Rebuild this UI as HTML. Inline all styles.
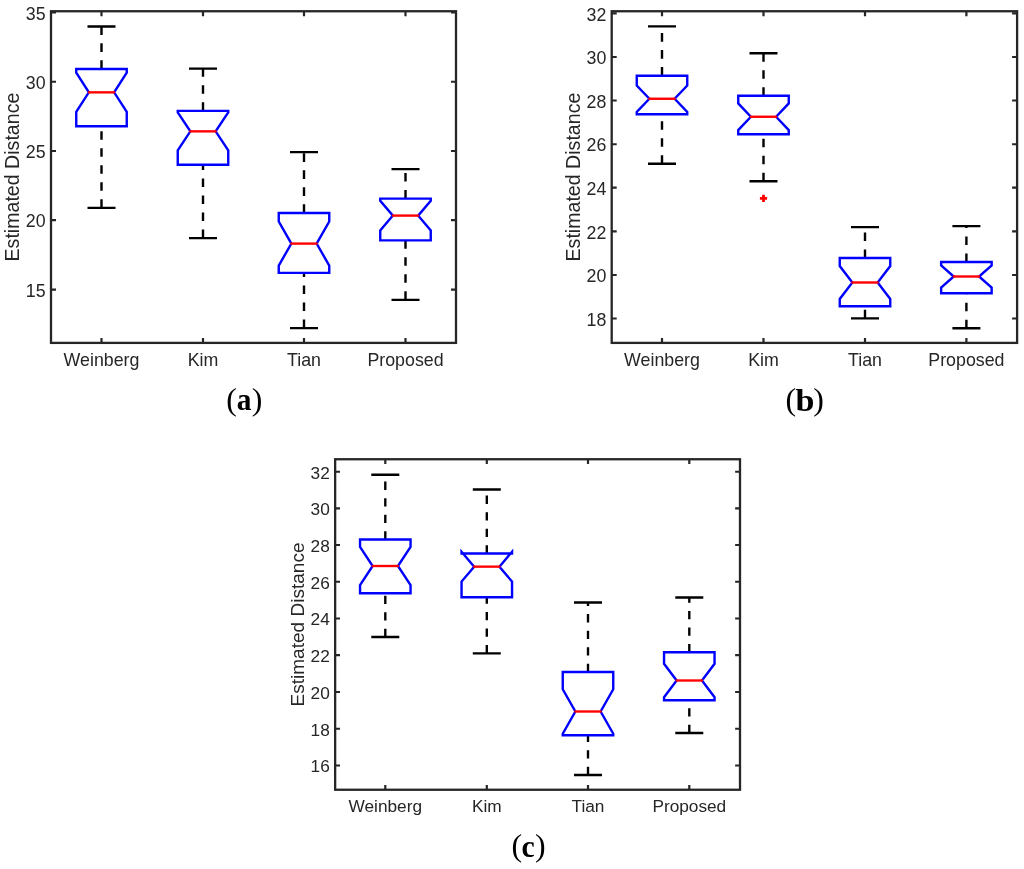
<!DOCTYPE html>
<html lang="en">
<head>
<meta charset="utf-8">
<title>Estimated Distance box plots</title>
<style>
html,body{margin:0;padding:0;background:#fff;}
body{width:1024px;height:869px;overflow:hidden;}
svg{display:block;}
.t{font-family:"Liberation Sans",Arial,Helvetica,sans-serif;fill:#262626;}
.c{font-family:"Liberation Serif","DejaVu Serif",serif;fill:#000;}
</style>
</head>
<body>
<svg width="1024" height="869" viewBox="0 0 1024 869">
<rect x="0" y="0" width="1024" height="869" fill="#ffffff"/>

<g id="plot-a">
<path d="M101.5 68.95V26.55M101.5 207.85V126.2" stroke="#000" stroke-width="2.4" stroke-dasharray="8.6 8.4" fill="none"/>
<path d="M87.5 26.55H115.5M87.5 207.85H115.5" stroke="#000" stroke-width="2.4" fill="none"/>
<path d="M76.25 126.2V111.95L88.85 92.35L76.25 72.55V68.95H126.75V72.55L114.15 92.35L126.75 111.95V126.2Z" stroke="#0000ff" stroke-width="2.4" stroke-linejoin="miter" stroke-miterlimit="6" fill="none"/>
<path d="M87.85 92.35H115.15" stroke="#ff0000" stroke-width="2.4" fill="none"/>
<path d="M203 110.85V68.6M203 238.1V164.75" stroke="#000" stroke-width="2.4" stroke-dasharray="8.6 8.4" fill="none"/>
<path d="M189 68.6H217M189 238.1H217" stroke="#000" stroke-width="2.4" fill="none"/>
<path d="M177.75 164.75V150.35L190.35 131.35L177.75 112.35V110.85H228.25V112.35L215.65 131.35L228.25 150.35V164.75Z" stroke="#0000ff" stroke-width="2.4" stroke-linejoin="miter" stroke-miterlimit="6" fill="none"/>
<path d="M189.35 131.35H216.65" stroke="#ff0000" stroke-width="2.4" fill="none"/>
<path d="M304 212.95V152.1M304 328.1V272.85" stroke="#000" stroke-width="2.4" stroke-dasharray="8.6 8.4" fill="none"/>
<path d="M290 152.1H318M290 328.1H318" stroke="#000" stroke-width="2.4" fill="none"/>
<path d="M278.75 272.85V265.55L291.35 243.6L278.75 221.55V212.95H329.25V221.55L316.65 243.6L329.25 265.55V272.85Z" stroke="#0000ff" stroke-width="2.4" stroke-linejoin="miter" stroke-miterlimit="6" fill="none"/>
<path d="M290.35 243.6H317.65" stroke="#ff0000" stroke-width="2.4" fill="none"/>
<path d="M405.5 198.6V169.1M405.5 299.85V240.35" stroke="#000" stroke-width="2.4" stroke-dasharray="8.6 8.4" fill="none"/>
<path d="M391.5 169.1H419.5M391.5 299.85H419.5" stroke="#000" stroke-width="2.4" fill="none"/>
<path d="M380.25 240.35V230.35L392.85 215.6L380.25 200.85V198.6H430.75V200.85L418.15 215.6L430.75 230.35V240.35Z" stroke="#0000ff" stroke-width="2.4" stroke-linejoin="miter" stroke-miterlimit="6" fill="none"/>
<path d="M391.85 215.6H419.15" stroke="#ff0000" stroke-width="2.4" fill="none"/>
<path d="M101.5 342.9V337.9M101.5 11.25V16.25M203 342.9V337.9M203 11.25V16.25M304 342.9V337.9M304 11.25V16.25M405.5 342.9V337.9M405.5 11.25V16.25M51 12.5H56M456 12.5H451M51 81.75H56M456 81.75H451M51 151H56M456 151H451M51 220.2H56M456 220.2H451M51 289.6H56M456 289.6H451" stroke="#262626" stroke-width="2.2" fill="none"/>
<rect x="51" y="11.25" width="405" height="331.65" fill="none" stroke="#262626" stroke-width="2.3"/>
<text class="t" x="45.6" y="19.6" font-size="17.8" text-anchor="end">35</text>
<text class="t" x="45.6" y="88.85" font-size="17.8" text-anchor="end">30</text>
<text class="t" x="45.6" y="158.1" font-size="17.8" text-anchor="end">25</text>
<text class="t" x="45.6" y="227.3" font-size="17.8" text-anchor="end">20</text>
<text class="t" x="45.6" y="296.7" font-size="17.8" text-anchor="end">15</text>
<text class="t" x="101.5" y="365.85" font-size="17.8" text-anchor="middle">Weinberg</text>
<text class="t" x="203" y="365.85" font-size="17.8" text-anchor="middle">Kim</text>
<text class="t" x="304" y="365.85" font-size="17.8" text-anchor="middle">Tian</text>
<text class="t" x="405.5" y="365.85" font-size="17.8" text-anchor="middle">Proposed</text>
<text class="t" transform="translate(18.9 177.07) rotate(-90)" font-size="19.6" text-anchor="middle">Estimated Distance</text>
<text class="c" x="226.2" y="409.8" font-size="31.9">(</text>
<text class="c" transform="translate(244.2 409.6) scale(0.95 1)" font-size="31" font-weight="bold" text-anchor="middle">a</text>
<text class="c" x="251.8" y="409.8" font-size="31.9">)</text>
</g>
<g id="plot-b">
<path d="M662 75.7V26.4M662 163.75V114.25" stroke="#000" stroke-width="2.4" stroke-dasharray="8.6 8.4" fill="none"/>
<path d="M648 26.4H676M648 163.75H676" stroke="#000" stroke-width="2.4" fill="none"/>
<path d="M636.75 114.25V112L649.35 98.75L636.75 85.5V75.7H687.25V85.5L674.65 98.75L687.25 112V114.25Z" stroke="#0000ff" stroke-width="2.4" stroke-linejoin="miter" stroke-miterlimit="6" fill="none"/>
<path d="M648.35 98.75H675.65" stroke="#ff0000" stroke-width="2.4" fill="none"/>
<path d="M763.5 95.75V53.25M763.5 181.25V134.25" stroke="#000" stroke-width="2.4" stroke-dasharray="8.6 8.4" fill="none"/>
<path d="M749.5 53.25H777.5M749.5 181.25H777.5" stroke="#000" stroke-width="2.4" fill="none"/>
<path d="M738.25 134.25V130.1L750.85 116.75L738.25 103.4V95.75H788.75V103.4L776.15 116.75L788.75 130.1V134.25Z" stroke="#0000ff" stroke-width="2.4" stroke-linejoin="miter" stroke-miterlimit="6" fill="none"/>
<path d="M749.85 116.75H777.15" stroke="#ff0000" stroke-width="2.4" fill="none"/>
<path d="M865 258V227.1M865 318.4V306.25" stroke="#000" stroke-width="2.4" stroke-dasharray="8.6 8.4" fill="none"/>
<path d="M851 227.1H879M851 318.4H879" stroke="#000" stroke-width="2.4" fill="none"/>
<path d="M839.75 306.25V299L852.35 282.5L839.75 266V258H890.25V266L877.65 282.5L890.25 299V306.25Z" stroke="#0000ff" stroke-width="2.4" stroke-linejoin="miter" stroke-miterlimit="6" fill="none"/>
<path d="M851.35 282.5H878.65" stroke="#ff0000" stroke-width="2.4" fill="none"/>
<path d="M966.4 262V226.15M966.4 328.25V293.25" stroke="#000" stroke-width="2.4" stroke-dasharray="8.6 8.4" fill="none"/>
<path d="M952.4 226.15H980.4M952.4 328.25H980.4" stroke="#000" stroke-width="2.4" fill="none"/>
<path d="M941.15 293.25V287.5L953.75 276.5L941.15 265.5V262H991.65V265.5L979.05 276.5L991.65 287.5V293.25Z" stroke="#0000ff" stroke-width="2.4" stroke-linejoin="miter" stroke-miterlimit="6" fill="none"/>
<path d="M952.75 276.5H980.05" stroke="#ff0000" stroke-width="2.4" fill="none"/>
<path d="M759.9 198.4H767.1M763.5 194.8V202" stroke="#ff0000" stroke-width="2.8" fill="none"/>
<path d="M662 342.9V337.9M662 11.25V16.25M763.5 342.9V337.9M763.5 11.25V16.25M865 342.9V337.9M865 11.25V16.25M966.4 342.9V337.9M966.4 11.25V16.25M611.7 13.4H616.7M1017.1 13.4H1012.1M611.7 57H616.7M1017.1 57H1012.1M611.7 100.5H616.7M1017.1 100.5H1012.1M611.7 144.25H616.7M1017.1 144.25H1012.1M611.7 187.6H616.7M1017.1 187.6H1012.1M611.7 231.4H616.7M1017.1 231.4H1012.1M611.7 275H616.7M1017.1 275H1012.1M611.7 318.5H616.7M1017.1 318.5H1012.1" stroke="#262626" stroke-width="2.2" fill="none"/>
<rect x="611.7" y="11.25" width="405.4" height="331.65" fill="none" stroke="#262626" stroke-width="2.3"/>
<text class="t" x="606.3" y="20.5" font-size="17.8" text-anchor="end">32</text>
<text class="t" x="606.3" y="64.1" font-size="17.8" text-anchor="end">30</text>
<text class="t" x="606.3" y="107.6" font-size="17.8" text-anchor="end">28</text>
<text class="t" x="606.3" y="151.35" font-size="17.8" text-anchor="end">26</text>
<text class="t" x="606.3" y="194.7" font-size="17.8" text-anchor="end">24</text>
<text class="t" x="606.3" y="238.5" font-size="17.8" text-anchor="end">22</text>
<text class="t" x="606.3" y="282.1" font-size="17.8" text-anchor="end">20</text>
<text class="t" x="606.3" y="325.6" font-size="17.8" text-anchor="end">18</text>
<text class="t" x="662" y="365.85" font-size="17.8" text-anchor="middle">Weinberg</text>
<text class="t" x="763.5" y="365.85" font-size="17.8" text-anchor="middle">Kim</text>
<text class="t" x="865" y="365.85" font-size="17.8" text-anchor="middle">Tian</text>
<text class="t" x="966.4" y="365.85" font-size="17.8" text-anchor="middle">Proposed</text>
<text class="t" transform="translate(579.8 177.07) rotate(-90)" font-size="19.6" text-anchor="middle">Estimated Distance</text>
<text class="c" x="785.5" y="409.9" font-size="31.9">(</text>
<text class="c" transform="translate(804.9 410.5) scale(1.1 1)" font-size="31" font-weight="bold" text-anchor="middle">b</text>
<text class="c" x="813.25" y="409.9" font-size="31.9">)</text>
</g>
<g id="plot-c">
<path d="M385.3 539.5V474.75M385.3 637V593.25" stroke="#000" stroke-width="2.37" stroke-dasharray="8.35 8.16" fill="none"/>
<path d="M371.3 474.75H399.3M371.3 637H399.3" stroke="#000" stroke-width="2.37" fill="none"/>
<path d="M360.05 593.25V585L372.65 566L360.05 547V539.5H410.55V547L397.95 566L410.55 585V593.25Z" stroke="#0000ff" stroke-width="2.4" stroke-linejoin="miter" stroke-miterlimit="6" fill="none"/>
<path d="M371.65 566H398.95" stroke="#ff0000" stroke-width="2.37" fill="none"/>
<path d="M486.8 553.5V489.5M486.8 653.35V597.2" stroke="#000" stroke-width="2.37" stroke-dasharray="8.35 8.16" fill="none"/>
<path d="M472.8 489.5H500.8M472.8 653.35H500.8" stroke="#000" stroke-width="2.37" fill="none"/>
<path d="M461.55 597.2V581.6L474.15 566.65L461.55 551.7V553.5H512.05V551.7L499.45 566.65L512.05 581.6V597.2Z" stroke="#0000ff" stroke-width="2.4" stroke-linejoin="miter" stroke-miterlimit="6" fill="none"/>
<path d="M473.15 566.65H500.45" stroke="#ff0000" stroke-width="2.37" fill="none"/>
<path d="M588 672V602.5M588 775V735.25" stroke="#000" stroke-width="2.37" stroke-dasharray="8.35 8.16" fill="none"/>
<path d="M574 602.5H602M574 775H602" stroke="#000" stroke-width="2.37" fill="none"/>
<path d="M562.75 735.25V733.75L575.35 711.5L562.75 689.25V672H613.25V689.25L600.65 711.5L613.25 733.75V735.25Z" stroke="#0000ff" stroke-width="2.4" stroke-linejoin="miter" stroke-miterlimit="6" fill="none"/>
<path d="M574.35 711.5H601.65" stroke="#ff0000" stroke-width="2.37" fill="none"/>
<path d="M689.3 652.25V597.5M689.3 733V700.25" stroke="#000" stroke-width="2.37" stroke-dasharray="8.35 8.16" fill="none"/>
<path d="M675.3 597.5H703.3M675.3 733H703.3" stroke="#000" stroke-width="2.37" fill="none"/>
<path d="M664.05 700.25V697.25L676.65 680.5L664.05 663.75V652.25H714.55V663.75L701.95 680.5L714.55 697.25V700.25Z" stroke="#0000ff" stroke-width="2.4" stroke-linejoin="miter" stroke-miterlimit="6" fill="none"/>
<path d="M675.65 680.5H702.95" stroke="#ff0000" stroke-width="2.37" fill="none"/>
<path d="M385.3 789.75V784.89M385.3 459.25V464.11M486.8 789.75V784.89M486.8 459.25V464.11M588 789.75V784.89M588 459.25V464.11M689.3 789.75V784.89M689.3 459.25V464.11M335.15 471.75H340M740 471.75H735.14M335.15 508.3H340M740 508.3H735.14M335.15 545H340M740 545H735.14M335.15 581.75H340M740 581.75H735.14M335.15 618.5H340M740 618.5H735.14M335.15 655.2H340M740 655.2H735.14M335.15 692H340M740 692H735.14M335.15 728.75H340M740 728.75H735.14M335.15 765.5H340M740 765.5H735.14" stroke="#262626" stroke-width="2.2" fill="none"/>
<rect x="335.15" y="459.25" width="404.85" height="330.5" fill="none" stroke="#262626" stroke-width="2.3"/>
<text class="t" x="329.75" y="478.63" font-size="17.25" text-anchor="end">32</text>
<text class="t" x="329.75" y="515.18" font-size="17.25" text-anchor="end">30</text>
<text class="t" x="329.75" y="551.88" font-size="17.25" text-anchor="end">28</text>
<text class="t" x="329.75" y="588.63" font-size="17.25" text-anchor="end">26</text>
<text class="t" x="329.75" y="625.38" font-size="17.25" text-anchor="end">24</text>
<text class="t" x="329.75" y="662.08" font-size="17.25" text-anchor="end">22</text>
<text class="t" x="329.75" y="698.88" font-size="17.25" text-anchor="end">20</text>
<text class="t" x="329.75" y="735.63" font-size="17.25" text-anchor="end">18</text>
<text class="t" x="329.75" y="772.38" font-size="17.25" text-anchor="end">16</text>
<text class="t" x="385.3" y="811.9" font-size="17.25" text-anchor="middle">Weinberg</text>
<text class="t" x="486.8" y="811.9" font-size="17.25" text-anchor="middle">Kim</text>
<text class="t" x="588" y="811.9" font-size="17.25" text-anchor="middle">Tian</text>
<text class="t" x="689.3" y="811.9" font-size="17.25" text-anchor="middle">Proposed</text>
<text class="t" transform="translate(304.2 624.5) rotate(-90)" font-size="19.05" text-anchor="middle">Estimated Distance</text>
<text class="c" x="511.4" y="856.2" font-size="31.9">(</text>
<text class="c" transform="translate(528.1 856.6) scale(0.96 1)" font-size="31" font-weight="bold" text-anchor="middle">c</text>
<text class="c" x="535" y="856.2" font-size="31.9">)</text>
</g>
</svg>
</body>
</html>
